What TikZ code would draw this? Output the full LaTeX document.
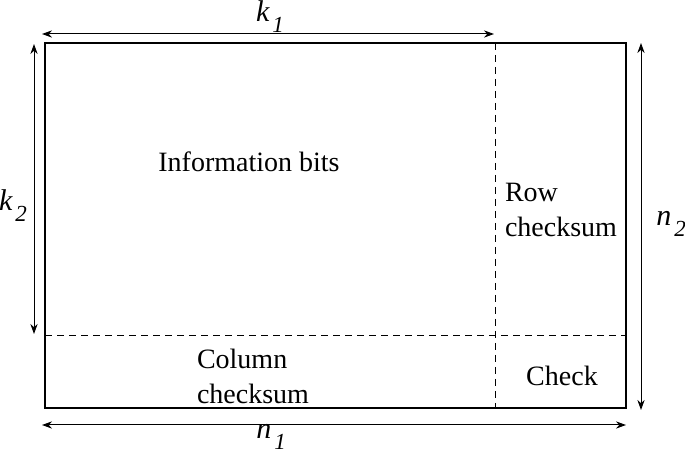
\documentclass[tikz,border=0pt]{standalone}
\usepackage{fontspec}
\setmainfont{Liberation Serif}
\usetikzlibrary{arrows.meta}
\newcommand{\dimsub}[2]{#1\hspace{1.5pt}\raisebox{-5.5pt}{\fontsize{11.5}{11.5}\selectfont #2}}
\begin{document}
\begin{tikzpicture}[x=0.5pt,y=-0.5pt,
  frame/.style={line width=1.4pt},
  divider/.style={line width=0.5pt,dash pattern=on 3.5pt off 2.5pt},
  dimarrow/.style={line width=0.5pt,{Stealth[length=5pt,width=3.6pt,inset=1.6pt]}-{Stealth[length=5pt,width=3.6pt,inset=1.6pt]}},
  lbl/.style={font=\fontsize{14}{17.5}\selectfont,inner sep=0pt},
  dim/.style={font=\fontsize{15}{17}\selectfont\itshape,inner sep=0pt}]
\useasboundingbox (0,0) rectangle (685,453);
% frame corners
\coordinate (tl) at (45,43);
\coordinate (br) at (626,408);
\draw[frame] (tl) rectangle (br);
% dividers
\coordinate (vt) at (495,43);
\coordinate (vb) at (495,408);
\coordinate (hl) at (45,336);
\coordinate (hr) at (626,336);
\draw[divider] (vt) -- (vb);
\draw[divider] (hl) -- (hr);
% dimension arrows
\coordinate (k1a) at (42,34);
\coordinate (k1b) at (494,34);
\coordinate (k2a) at (34,44);
\coordinate (k2b) at (34,334);
\coordinate (n2a) at (641,43);
\coordinate (n2b) at (641,410);
\coordinate (n1a) at (42,425);
\coordinate (n1b) at (626,425);
\draw[dimarrow] (k1a) -- (k1b);
\draw[dimarrow] (k2a) -- (k2b);
\draw[dimarrow] (n2a) -- (n2b);
\draw[dimarrow] (n1a) -- (n1b);
% dimension labels
\node[dim] (k1) at (270,17) {\dimsub{k}{1}};
\node[dim] (k2) at (13,206) {\dimsub{k}{2}};
\node[dim] (n2) at (671,224) {\dimsub{n}{2}};
\node[dim,anchor=base] (n1) at (271,439) {\dimsub{n}{1}};
% region labels
\node[lbl] (info) at (249,162) {Information bits};
\node[lbl,align=left] (row) at (561,210) {Row\\checksum};
\node[lbl,align=left] (col) at (253,376) {Column\\checksum};
\node[lbl] (check) at (562,376) {Check};
\end{tikzpicture}
\end{document}
